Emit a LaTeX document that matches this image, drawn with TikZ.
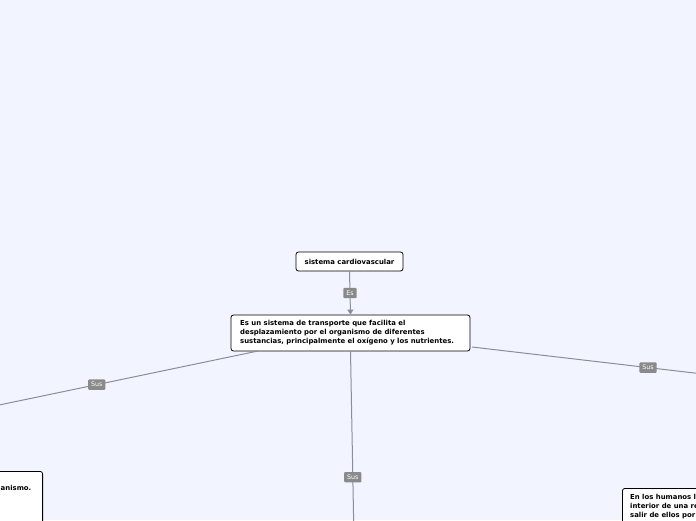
\documentclass[tikz,border=0pt]{standalone}
\usepackage{fontspec}
\setmainfont{DejaVu Sans}
\usetikzlibrary{arrows.meta}
\definecolor{bg}{HTML}{F2F5FF}
\definecolor{ln}{HTML}{8C8E96}
\definecolor{lbl}{HTML}{8A8A8A}
\tikzset{
  topic/.style={draw=black, line width=0.8pt, rounded corners=2.5pt, fill=white, font=\fontsize{6.9}{8.6}\selectfont\bfseries, inner sep=0pt},
  tx/.style={font=\fontsize{6.9}{8.6}\selectfont\bfseries, inner sep=0pt, align=left},
  conn/.style={draw=ln, line width=1pt},
  rel/.style={fill=lbl, text=white, rounded corners=1pt, font=\fontsize{6.3}{7}\selectfont, inner xsep=3pt, inner ysep=2.8pt},
}
\begin{document}
\begin{tikzpicture}[x=1pt,y=-1pt]
\useasboundingbox (0,0) rectangle (696,520);
\fill[bg] (0,0) rectangle (696,520);
\clip (0,0) rectangle (696,520);
% nodes
\node[topic, minimum width=107pt, minimum height=19pt] (sc) at (349.5,261.5) {sistema cardiovascular};
\node[topic, minimum width=239pt, minimum height=36pt] (main) at (350.5,333) {};
\node[tx, anchor=north west] (maint) at (240,320.5) {Es un sistema de transporte que facilita el\\desplazamiento por el organismo de diferentes\\sustancias, principalmente el oxígeno y los nutrientes.};
\node[topic, minimum width=160pt, minimum height=70pt, anchor=north east] (lb) at (43,471) {};
\node[tx, anchor=north east] (lbt) at (31.5,485.5) {anismo.};
\node[topic, minimum width=160pt, minimum height=70pt, anchor=north west] (rb) at (622,488) {};
\node[tx, anchor=north west] (rbt) at (630,494.5) {En los humanos l\\interior de una re\\salir de ellos por};
% free ends
\coordinate (lend) at (-20,409);
\coordinate (rend) at (720,376);
\coordinate (bend) at (354,540);
% connectors
\draw[conn, -{Triangle[length=5pt,width=6pt]}] (sc.south) -- node[rel]{Es} (main.north);
\draw[conn] (258,351) -- node[rel, pos=0.58]{Sus} (lend);
\draw[conn] (main.south) -- node[rel, pos=0.667]{Sus} (bend);
\draw[conn] (472,347) -- node[rel, pos=0.71]{Sus} (rend);
\end{tikzpicture}
\end{document}
